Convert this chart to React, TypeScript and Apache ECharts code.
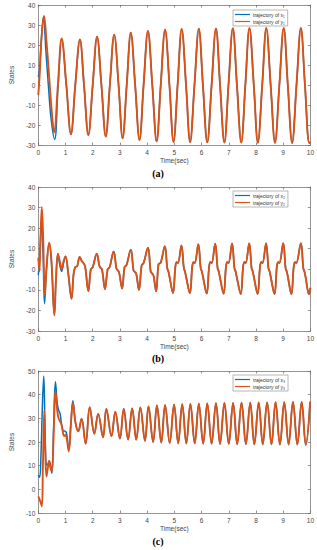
import React, { useEffect, useRef } from "react";
import * as echarts from "echarts";

// ---- Panel (a): x1 / y1 ----
const y1Data: number[][] = [
  [0, -5], [0.05, 5], [0.12, 24], [0.21, 34.5], [0.3, 22], [0.4, 4], [0.5, -14], [0.58, -23.7],
  [0.72, 0], [0.86, 23.3], [1.03, 0], [1.2, -24.7], [1.36, 0], [1.53, 22.8], [1.68, 0], [1.84, -25],
  [2.0, 0], [2.16, 24.2], [2.32, 0], [2.48, -25.8], [2.63, 0], [2.79, 25.2], [2.95, 0], [3.1, -26.7],
  [3.25, 0], [3.4, 26.2], [3.56, 0], [3.72, -27.5], [3.87, 0], [4.03, 27], [4.19, 0], [4.35, -28.2],
  [4.5, 0], [4.66, 27.7], [4.82, 0], [4.97, -28.5], [5.12, 0], [5.27, 28], [5.43, 0], [5.58, -28.6],
  [5.74, 0], [5.9, 28.2], [6.05, 0], [6.21, -28.7], [6.37, 0], [6.53, 28.3], [6.68, 0], [6.84, -28.8],
  [6.99, 0], [7.15, 28.4], [7.3, 0], [7.46, -28.8], [7.61, 0], [7.76, 28.5], [7.92, 0], [8.07, -28.9],
  [8.23, 0], [8.38, 28.5], [8.54, 0], [8.7, -28.9], [8.86, 0], [9.02, 28.5], [9.17, 0], [9.33, -29],
  [9.49, 0], [9.65, 28.5], [9.8, 0], [9.96, -29], [10, -28.5],
];
const x1Early: number[][] = [
  [0, 4], [0.05, 8], [0.1, 20], [0.19, 34], [0.28, 17], [0.38, -2], [0.48, -18], [0.6, -27.2],
  [0.73, 0], [0.86, 23],
];

// ---- Panel (b): x2 / y2 ----
const y2Data: number[][] = [
  [0, 5.6], [0.04, -1], [0.07, 10], [0.13, 30.3], [0.18, 15], [0.24, -12.7], [0.3, 0], [0.4, 13],
  [0.48, 5], [0.59, -22.4], [0.65, -5], [0.72, 7.6], [0.79, 4], [0.86, 0], [0.93, 4], [1.0, 6.3],
  [1.1, -2], [1.22, -14.3], [1.3, -2], [1.36, 1.1], [1.43, 1.5], [1.52, 6], [1.6, 4], [1.66, 3],
  [1.72, 1.5], [1.84, -10.6], [1.93, 0], [2.0, 1], [2.15, 7.6], [2.24, 2], [2.28, 0.8], [2.34, 0],
  [2.45, -9.6], [2.55, 0], [2.62, 1], [2.77, 8.6], [2.87, 0.5], [2.92, -0.5], [2.97, -1.5],
  [3.08, -9.4], [3.17, 1], [3.24, 2], [3.4, 9.5], [3.5, -0.5], [3.55, -1.3], [3.6, -2.2],
  [3.7, -10], [3.8, 2], [3.87, 3], [4.03, 10.5], [4.13, -1], [4.18, -2], [4.23, -2.8],
  [4.33, -10.7], [4.42, 2.5], [4.5, 3.2], [4.65, 11.2],
  [4.74, 0.5], [4.78, -1], [4.82, -3.5], [4.95, -11.5], [5.04, 1.5], [5.09, 3.5], [5.13, 3],
  [5.26, 11.6], [5.35, 0.5], [5.39, -1], [5.43, -3.5], [5.57, -11.6], [5.66, 1.5], [5.71, 3.5], [5.75, 3],
  [5.88, 12.2], [5.97, 0.5], [6.01, -1], [6.05, -3.5], [6.19, -11.8], [6.28, 1.5], [6.33, 3.5], [6.37, 3],
  [6.5, 12.4], [6.59, 0.5], [6.63, -1], [6.67, -3.5], [6.81, -11.9], [6.9, 1.5], [6.95, 3.5], [6.99, 3],
  [7.12, 12.5], [7.21, 0.5], [7.25, -1], [7.29, -3.5], [7.44, -12], [7.53, 1.5], [7.58, 3.5], [7.62, 3],
  [7.75, 12.6], [7.84, 0.5], [7.88, -1], [7.92, -3.5], [8.06, -12], [8.15, 1.5], [8.2, 3.5], [8.24, 3],
  [8.37, 12.6], [8.46, 0.5], [8.5, -1], [8.54, -3.5], [8.68, -12], [8.77, 1.5], [8.82, 3.5], [8.86, 3],
  [9.0, 12.7], [9.09, 0.5], [9.13, -1], [9.17, -3.5], [9.3, -12.1], [9.39, 1.5], [9.44, 3.5], [9.48, 3],
  [9.65, 12.7], [9.74, 0.5], [9.78, -1], [9.82, -3.5], [9.95, -12.1], [10, -9],
];
const x2Early: number[][] = [
  [0, -2.8], [0.05, 5], [0.12, 23.8], [0.18, 5], [0.23, -16.7], [0.3, 0], [0.4, 12.5], [0.48, 4],
  [0.59, -22], [0.65, -5], [0.72, 7.5], [0.79, 2], [0.86, -1], [0.93, 3],
];

// ---- Panel (c): x3 / y3 ----
const y3Data: number[][] = [
  [0, -3], [0.07, -5], [0.13, -7.2], [0.17, 10], [0.22, 33.3], [0.26, 15], [0.3, 5.4], [0.35, 9],
  [0.4, 12], [0.47, 8], [0.52, 10], [0.57, 25], [0.63, 41.6], [0.7, 33], [0.75, 29.8], [0.85, 27.5],
  [0.95, 22.5], [1.0, 23], [1.05, 21], [1.12, 16], [1.2, 28], [1.27, 36.5], [1.37, 28], [1.47, 24.5],
  [1.59, 29.8], [1.74, 19.3], [1.89, 34.7], [2.06, 23.5], [2.2, 31.9], [2.38, 22], [2.5, 34],
  [2.69, 22.5], [2.83, 32.8], [3.0, 21.5], [3.14, 34], [3.3, 21], [3.45, 34.2], [3.6, 21],
  [3.75, 34.6], [3.92, 20.5], [4.05, 35], [4.22, 20], [4.36, 35.4], [4.52, 19.8], [4.66, 35.6],
  [4.83, 19.6], [4.99, 35.8], [5.14, 19.5], [5.29, 36], [5.44, 19.4], [5.59, 36.1], [5.75, 19.4],
  [5.9, 36.2], [6.06, 19.3], [6.21, 36.3], [6.37, 19.3], [6.53, 36.4], [6.68, 19.2], [6.84, 36.5],
  [7.0, 19.2], [7.16, 36.5], [7.31, 19.1], [7.47, 36.6], [7.63, 19.1], [7.79, 36.6], [7.94, 19],
  [8.1, 36.7], [8.25, 19], [8.41, 36.7], [8.57, 19], [8.72, 36.8], [8.88, 18.9], [9.04, 36.8],
  [9.2, 18.9], [9.36, 36.9], [9.52, 18.9], [9.68, 36.9], [9.83, 18.8], [9.99, 37],
];
const x3Early: number[][] = [
  [0, 6], [0.05, 5.1], [0.1, 15], [0.15, 35], [0.2, 47.9], [0.25, 25], [0.3, 10.3], [0.35, 10.5],
  [0.4, 12], [0.45, 10], [0.5, 6.8], [0.56, 25], [0.63, 45.5], [0.7, 36], [0.75, 33.3], [0.8, 32],
  [0.9, 24.9], [1.0, 24.5], [1.05, 23], [1.12, 16.5], [1.2, 28], [1.27, 37.4],
];

const xTicks = { min: 0, max: 10, interval: 1 };
const yRanges = [
  { min: -30, max: 40, interval: 10 },
  { min: -30, max: 40, interval: 10 },
  { min: -10, max: 50, interval: 10 },
];
const panelLabels = ["(a)", "(b)", "(c)"];
const xNames = ["trajectory of x₁", "trajectory of x₂", "trajectory of x₃"];
const yNames = ["trajectory of y₁", "trajectory of y₂", "trajectory of y₃"];

const BLUE = "#0072BD";
const ORANGE = "#D95319";

export default function App() {
  const ref = useRef<HTMLDivElement>(null);
  useEffect(() => {
    if (!ref.current) return;
    const chart = echarts.init(ref.current, undefined, { renderer: "svg" });

    const blueSeries = [
      x1Early.concat(y1Data.filter((p) => p[0] > 0.86)),
      x2Early.concat(y2Data.filter((p) => p[0] >= 1.0)),
      x3Early.concat(y3Data.filter((p) => p[0] > 1.27)),
    ];
    const orangeSeries = [y1Data, y2Data, y3Data];

    const grids = [
      { left: 21, right: 5, top: 5, height: 140 },
      { left: 21, right: 5, top: 187, height: 144 },
      { left: 21, right: 5, top: 371, height: 142 },
    ];
    const labelY = [173, 358, 541];
    const legendTop = [10, 191, 375];

    const axisLine = { show: true, onZero: false, lineStyle: { color: "#666", width: 0.7 } };
    const tick = { show: true, inside: true, length: 2.5, lineStyle: { color: "#666", width: 0.7 } };
    const font = "'Liberation Sans', Arial, sans-serif";

    const xAxis: any[] = [];
    const yAxis: any[] = [];
    const series: any[] = [];
    const legend: any[] = [];
    const graphic: any[] = [];

    for (let i = 0; i < 3; i++) {
      xAxis.push({
        type: "value", gridIndex: i, position: "bottom", ...xTicks,
        axisLine, axisTick: tick, splitLine: { show: false },
        axisLabel: { fontSize: 6.5, color: "#444", margin: 4, fontFamily: font },
        name: "Time(sec)", nameLocation: "middle", nameGap: 12,
        nameTextStyle: { fontSize: 6.5, color: "#444", fontFamily: font },
      });
      xAxis.push({
        type: "value", gridIndex: i, position: "top", ...xTicks,
        axisLine, axisTick: tick, splitLine: { show: false }, axisLabel: { show: false },
      });
      yAxis.push({
        type: "value", gridIndex: i, position: "left", ...yRanges[i],
        axisLine, axisTick: tick, splitLine: { show: false },
        axisLabel: { fontSize: 6.5, color: "#444", margin: 3, fontFamily: font },
        name: "States", nameLocation: "middle", nameGap: 12, nameRotate: 90,
        nameTextStyle: { fontSize: 6.5, color: "#444", fontFamily: font },
      });
      yAxis.push({
        type: "value", gridIndex: i, position: "right", ...yRanges[i],
        axisLine, axisTick: tick, splitLine: { show: false }, axisLabel: { show: false },
      });
      series.push({
        name: xNames[i], type: "line", xAxisIndex: 2 * i, yAxisIndex: 2 * i,
        data: blueSeries[i], showSymbol: false, symbol: "none", smooth: 0.4,
        lineStyle: { color: BLUE, width: 1.5 }, itemStyle: { color: BLUE },
      });
      series.push({
        name: yNames[i], type: "line", xAxisIndex: 2 * i, yAxisIndex: 2 * i,
        data: orangeSeries[i], showSymbol: false, symbol: "none", smooth: 0.4,
        lineStyle: { color: ORANGE, width: 1.9 }, itemStyle: { color: ORANGE },
      });
      legend.push({
        data: [xNames[i], yNames[i]], orient: "vertical", left: 233, top: legendTop[i],
        icon: "rect", itemWidth: 15, itemHeight: 1.2, itemGap: 2, padding: [2, 3, 2, 2],
        backgroundColor: "#fff", borderColor: "#888", borderWidth: 0.6,
        textStyle: { fontSize: 5, color: "#333", fontFamily: font, padding: [0, 0, 0, -2] },
        selectedMode: false,
      });
      graphic.push({
        type: "text", x: 158, y: labelY[i],
        style: {
          text: panelLabels[i], font: "bold 10px 'Liberation Serif', 'Times New Roman', serif",
          fill: "#000", textAlign: "center", textVerticalAlign: "middle",
        },
      });
    }

    chart.setOption({
      animation: false,
      backgroundColor: "#fff",
      grid: grids,
      xAxis, yAxis, series, legend, graphic,
    });
    return () => chart.dispose();
  }, []);
  return (
    <div
      ref={ref}
      style={{ position: "absolute", left: 0, top: 0, width: 317, height: 550 }}
    />
  );
}
